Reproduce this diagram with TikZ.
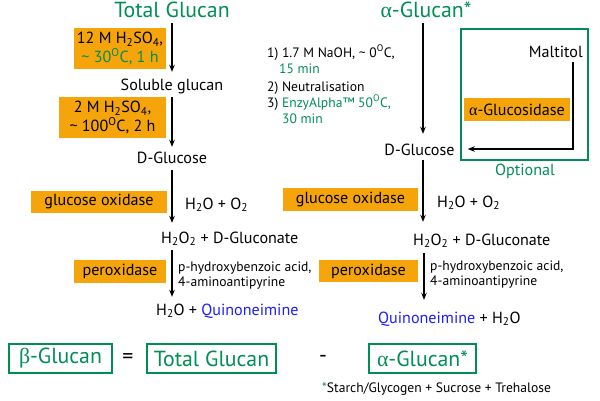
\documentclass[tikz,border=0pt]{standalone}
\usepackage{fontspec}
\setmainfont{PT Sans}
\newfontfamily\grk{Liberation Serif}
\usetikzlibrary{arrows.meta}
\definecolor{gr}{RGB}{0,142,85}
\definecolor{org}{RGB}{245,165,10}
\definecolor{bl}{RGB}{30,30,255}
\newcommand\szT{\fontsize{21.8}{24}\selectfont}
\newcommand\szN{\fontsize{16.1}{19}\selectfont}
\newcommand\szS{\fontsize{13.6}{15}\selectfont}
\newcommand\galpha{{\grk α}}
\newcommand\gbeta{{\grk β}}
\begin{document}
\begin{tikzpicture}[x=1pt,y=-1pt,
  ttl/.style={inner sep=0pt, font=\szT, text=gr, text height=15, text depth=4},
  txt/.style={inner sep=0pt, font=\szN, text height=11.5, text depth=3.5},
  sm/.style={inner sep=0pt, font=\szS, text height=9.5, text depth=3},
  obox/.style={fill=org, inner sep=0pt, font=\szN, align=center},
  gbox/.style={draw=gr, line width=1.8pt, inner sep=0pt, font=\szT, text=gr},
  arr/.style={-{Stealth[length=7pt,width=5.5pt]}, line width=1.2pt}]
\useasboundingbox (0,0) rectangle (600,400);
\coordinate (colL) at (172,0);
\coordinate (colR) at (423,0);
\coordinate (colO) at (573,0);
\coordinate (corner) at (573,149);
% ---- left column ----
\node[ttl, anchor=base] (tg) at (172,17.5) {Total Glucan};
\node[obox, minimum width=92, minimum height=41] (b1) at (120,48.5) {12 M H\textsubscript{2}SO\textsubscript{4},\\\textcolor{gr}{\textasciitilde{} 30\textsuperscript{O}C, 1 h}};
\node[txt, anchor=base] (sg) at (172,90) {Soluble glucan};
\node[obox, minimum width=107, minimum height=41] (b2) at (112.5,117.5) {2 M H\textsubscript{2}SO\textsubscript{4},\\\textasciitilde{} 100\textsuperscript{O}C, 2 h};
\node[txt, anchor=base] (dg1) at (172,163) {D-Glucose};
\node[obox, minimum width=136, minimum height=22] (ox1) at (99,202) {glucose oxidase};
\node[txt, anchor=base west] (wo1) at (185,209) {H\textsubscript{2}O + O\textsubscript{2}};
\node[txt, anchor=base west] (gl1) at (161,243) {H\textsubscript{2}O\textsubscript{2} + D-Gluconate};
\node[obox, minimum width=92, minimum height=23] (pe1) at (120,271.5) {peroxidase};
\node[sm, anchor=base west] (ph1a) at (178,271) {p-hydroxybenzoic acid,};
\node[sm, anchor=base west] (ph1b) at (178,286) {4-aminoantipyrine};
\node[txt, anchor=base west] (qn1) at (156,315) {H\textsubscript{2}O + \textcolor{bl}{Quinoneimine}};
\draw[arr, shorten <=1.5pt, shorten >=6.5pt] (colL |- tg.south) -- (colL |- sg.north);
\draw[arr, shorten <=3.5pt, shorten >=4.5pt] (colL |- sg.south) -- (colL |- dg1.north);
\draw[arr, shorten <=3.5pt, shorten >=8.5pt] (colL |- dg1.south) -- (colL |- gl1.north);
\draw[arr, shorten <=3.5pt, shorten >=6.5pt] (colL |- gl1.south) -- (colL |- qn1.north);
% ---- right column ----
\node[ttl, anchor=base] (ag) at (426,17) {\galpha-Glucan*};
\node[sm, anchor=base west] (s1) at (267,57) {1) 1.7 M NaOH, \textasciitilde{} 0\textsuperscript{O}C,};
\node[sm, anchor=base west, text=gr] (s1b) at (279,73) {15 min};
\node[sm, anchor=base west] (s2) at (267,91) {2) Neutralisation};
\node[sm, anchor=base west] (s3) at (267,107) {3) \textcolor{gr}{EnzyAlpha™ 50\textsuperscript{O}C,}};
\node[sm, anchor=base west, text=gr] (s3b) at (282,123) {30 min};
\node[txt, anchor=base] (dgr) at (419.5,155) {D-Glucose};
\node[draw=gr, line width=1.8pt, minimum width=127, minimum height=131, inner sep=0pt] (opt) at (524.5,94.5) {};
\node[txt, anchor=base east] (mal) at (583,57) {Maltitol};
\node[obox, minimum width=106, minimum height=23] (agl) at (517,109.5) {\galpha-Glucosidase};
\node[txt, anchor=base, text=gr] (optl) at (525,175) {Optional};
\draw[arr, shorten <=1.5pt, shorten >=13pt] (colO |- mal.south) -- (corner) -- (corner -| dgr.east);
\node[obox, minimum width=135, minimum height=23] (oxr) at (350.5,199.5) {glucose oxidase};
\node[txt, anchor=base west] (wor) at (437,207) {H\textsubscript{2}O + O\textsubscript{2}};
\node[txt, anchor=base west] (glr) at (413,245) {H\textsubscript{2}O\textsubscript{2} + D-Gluconate};
\node[obox, minimum width=99, minimum height=22] (per) at (368.5,271) {peroxidase};
\node[sm, anchor=base west] (phra) at (430,270) {p-hydroxybenzoic acid,};
\node[sm, anchor=base west] (phrb) at (430,285) {4-aminoantipyrine};
\node[txt, anchor=base west] (qnr) at (378,323) {\textcolor{bl}{Quinoneimine} + H\textsubscript{2}O};
\draw[arr, shorten <=2pt, shorten >=9.5pt] (colR |- ag.south) -- (colR |- dgr.north);
\draw[arr, shorten <=1.5pt, shorten >=11.5pt] (colR |- dgr.south) -- (colR |- glr.north);
\draw[arr, shorten <=4.5pt, shorten >=11.5pt] ([xshift=1pt]colR |- glr.south) -- ([xshift=1pt]colR |- qnr.north);
% ---- bottom equation ----
\node[gbox, minimum width=103, minimum height=29] (beta) at (60.5,358.5) {\gbeta-Glucan};
\node[inner sep=0pt, font=\szT] (eq) at (128,359) {=};
\node[gbox, minimum width=129, minimum height=29] (tot) at (211.5,358.5) {Total Glucan};
\node[inner sep=0pt, font=\szT] (mi) at (323,359) {-};
\node[gbox, minimum width=107, minimum height=29] (alp) at (422.5,358.5) {\galpha-Glucan*};
\node[sm, anchor=base west] (fn) at (322,392) {\textcolor{gr}{*}Starch/Glycogen + Sucrose + Trehalose};
\end{tikzpicture}
\end{document}
